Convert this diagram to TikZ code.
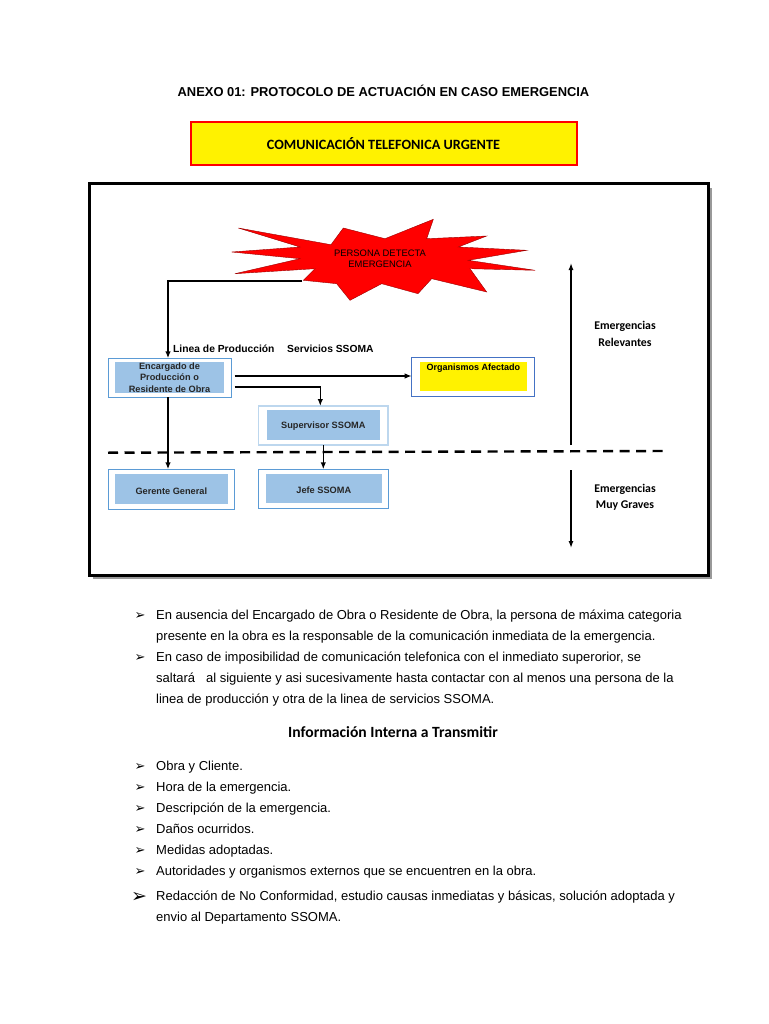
\documentclass[tikz,border=0pt]{standalone}
\usepackage{fontspec}
\setmainfont{Liberation Sans}
\newfontfamily\calfont{Carlito}
\newfontfamily\djfont{DejaVu Sans}
\usetikzlibrary{arrows.meta}
\definecolor{boxblue}{HTML}{5B9BD5}
\definecolor{darkblue}{HTML}{4472C4}
\definecolor{fillblue}{HTML}{9DC3E6}
\definecolor{lineblue}{HTML}{BDD7EE}
\tikzset{
  outerbox/.style={draw=boxblue, line width=1pt, fill=white, inner sep=0pt, outer sep=0pt},
  innerbox/.style={fill=fillblue, inner sep=0pt, outer sep=0pt, align=center,
    font=\bfseries\fontsize{9.2}{11.4}\selectfont, text=black!85},
  boxtext/.style={inner sep=0pt, font=\bfseries\fontsize{9.2}{11.4}\selectfont, text=black!85},
  arr/.style={-{Latex[length=7pt,width=5.5pt]}, line width=1.6pt},
  varr/.style={-{Latex[length=7pt,width=5pt]}, line width=1.3pt},
  body/.style={anchor=base west, inner sep=0pt, font=\fontsize{13}{15}\selectfont},
  bul/.style={anchor=base west, inner sep=0pt, font=\djfont\fontsize{13}{14}\selectfont},
  emlab/.style={align=center, font=\calfont\bfseries\fontsize{11.8}{16.5}\selectfont},
  linelab/.style={anchor=base west, inner sep=0pt, font=\bfseries\fontsize{10.3}{12}\selectfont}
}
\begin{document}
\begin{tikzpicture}[x=1pt,y=-1pt]
\useasboundingbox (0,0) rectangle (768,1024);
\fill[white] (0,0) rectangle (768,1024);

% title
\node[font=\bfseries\fontsize{12.9}{15}\selectfont, anchor=base] (title) at (383.5,97) {ANEXO 01: PROTOCOLO DE ACTUACIÓN EN CASO EMERGENCIA};

% yellow banner
\node[draw=red, line width=2pt, fill=yellow, minimum width=386pt, minimum height=43pt, inner sep=0pt,
  font=\calfont\bfseries\fontsize{14.2}{16}\selectfont] (banner) at (383.5,144) {COMUNICACIÓN TELEFONICA URGENTE};

% frame with shadow
\fill[black!40] (93,188) rectangle (712,579);
\draw[line width=3pt, fill=white] (89,184) rectangle (708,575);

% starburst
\draw[fill=red, draw=red!60!black, line width=0.4pt]
  (238.3,228) -- (331,244.7) -- (343.3,228) -- (385,238.7) -- (433.3,219.3) -- (426.7,238.7)
  -- (486.7,236) -- (458.3,247) -- (526.7,250.3) -- (468.3,260.3) -- (535,270.3) -- (470,268.7)
  -- (486.7,292) -- (431.7,278.7) -- (418,293.7) -- (381.7,283.7) -- (350,300.3) -- (336.7,283.7)
  -- (303.3,280.3) -- (315,268.7) -- (235,273.7) -- (300,258.7) -- (231.7,252) -- (300,247) -- cycle;
\node[align=center, font=\fontsize{9.4}{11.2}\selectfont] (star) at (380,259) {PERSONA DETECTA\\EMERGENCIA};
\coordinate (sL) at (302,281);

% line labels
\node[linelab] (lprod) at (173,352) {Linea de Producción};
\node[linelab] (lsso) at (287,352.5) {Servicios SSOMA};

% boxes
\node[outerbox, minimum width=123.4pt, minimum height=39pt] (enc) at (170,377.8) {};
\node[innerbox, minimum width=109pt, minimum height=31pt] (enci) at (169.5,377.4) {Encargado de\\Producción o\\Residente de Obra};

\node[outerbox, draw=darkblue, line width=1.5pt, minimum width=122.6pt, minimum height=39.4pt] (org) at (473,377) {};
\node[fill=yellow, inner sep=0pt, minimum width=106.7pt, minimum height=28.7pt] (orgi) at (473.3,376.7) {};
\node[font=\bfseries\fontsize{9}{10}\selectfont, inner sep=0pt] (orgt) at (473.3,368.5) {Organismos Afectado};

\node[outerbox, draw=lineblue, line width=1.5pt, minimum width=129.3pt, minimum height=39pt] (sup) at (323.3,425.5) {};
\node[innerbox, minimum width=113.3pt, minimum height=30pt] (supi) at (323.3,425) {};
\node[boxtext] (supt) at (323.3,426.5) {Supervisor SSOMA};

\node[outerbox, minimum width=126pt, minimum height=40pt] (ger) at (171.3,489.3) {};
\node[innerbox, minimum width=112.7pt, minimum height=29.7pt] (geri) at (171.3,489.2) {};
\node[boxtext] (gert) at (171.3,491) {Gerente General};

\node[outerbox, minimum width=130pt, minimum height=39pt] (jefe) at (323.7,488.8) {};
\node[innerbox, minimum width=115.7pt, minimum height=29.3pt] (jefei) at (323.8,488.7) {};
\node[boxtext] (jefet) at (323.8,490.5) {Jefe SSOMA};

% connectors
\draw[arr] (sL) -| ([xshift=-2pt]enc.north);
\draw[arr] ([xshift=3pt,yshift=1.8pt]enc.east) -- ([yshift=1.8pt]enc.east -| org.west);
\draw[arr] ([xshift=3pt,yshift=-9pt]enc.east) -| ([xshift=-3pt]sup.north);
\draw[arr] ([xshift=-2pt]enc.south) -- ([xshift=-2pt]enc.south |- ger.north);
\draw[arr] (sup.south) -- (sup.south |- jefe.north);

% dashed separator
\coordinate (dL) at (108,452.7);
\coordinate (dR) at (668,451);
\draw[line width=2.4pt, dash pattern=on 10pt off 6.5pt] (dL) -- (dR);

% right side arrows
\coordinate (u1) at (571,445);
\coordinate (u2) at (571,263);
\coordinate (d1) at (571,470);
\coordinate (d2) at (571,548);
\draw[varr] (u1) -- (u2);
\draw[varr] (d1) -- (d2);
\node[emlab] (erel) at (625,334) {Emergencias\\Relevantes};
\node[emlab] (egra) at (625,497.5) {Emergencias\\Muy Graves};

% bullet text
\node[bul] (b1) at (134.5,619) {➢};
\node[body] (t1a) at (156,619) {En ausencia del Encargado de Obra o Residente de Obra, la persona de máxima categoria};
\node[body] (t1b) at (156,640) {presente en la obra es la responsable de la comunicación inmediata de la emergencia.};
\node[bul] (b2) at (134.5,661) {➢};
\node[body] (t2a) at (156,661) {En caso de imposibilidad de comunicación telefonica con el inmediato superorior, se};
\node[body] (t2b) at (156,682) {saltará\ \ \ al siguiente y asi sucesivamente hasta contactar con al menos una persona de la};
\node[body] (t2c) at (156,703) {linea de producción y otra de la linea de servicios SSOMA.};

\node[font=\calfont\bfseries\fontsize{15.6}{18}\selectfont, anchor=base] (info) at (393,737) {Información Interna a Transmitir};

\node[bul] (c1) at (134.5,770) {➢};
\node[body] (s1) at (156,770) {Obra y Cliente.};
\node[bul] (c2) at (134.5,791) {➢};
\node[body] (s2) at (156,791) {Hora de la emergencia.};
\node[bul] (c3) at (134.5,812) {➢};
\node[body] (s3) at (156,812) {Descripción de la emergencia.};
\node[bul] (c4) at (134.5,833) {➢};
\node[body] (s4) at (156,833) {Daños ocurridos.};
\node[bul] (c5) at (134.5,854) {➢};
\node[body] (s5) at (156,854) {Medidas adoptadas.};
\node[bul] (c6) at (134.5,875) {➢};
\node[body] (s6) at (156,875) {Autoridades y organismos externos que se encuentren en la obra.};
\node[bul, font=\djfont\fontsize{19}{20}\selectfont] (c7) at (131,902) {➢};
\node[body] (s7) at (156,900) {Redacción de No Conformidad, estudio causas inmediatas y básicas, solución adoptada y};
\node[body] (s8) at (156,921) {envio al Departamento SSOMA.};
\end{tikzpicture}
\end{document}
